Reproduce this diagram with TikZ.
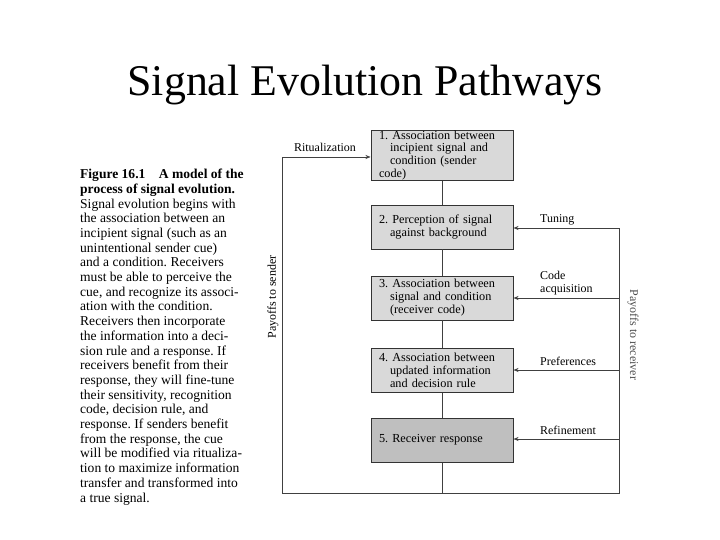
\documentclass[tikz,border=0pt]{standalone}
\usepackage{fontspec}
\setmainfont{Liberation Serif}
\usetikzlibrary{arrows.meta}
\frenchspacing
\begin{document}
\begin{tikzpicture}[x=1bp,y=-1bp,
  stepbox/.style={draw=black!80,line width=1pt,fill=black!15,minimum width=142bp,minimum height=44bp,inner xsep=8bp,inner ysep=0pt,text width=126bp,font=\fontsize{12.3}{13}\selectfont,align=left},
  lbl/.style={font=\fontsize{12}{13}\selectfont,align=left,inner sep=0pt},
  conn/.style={draw=black!75,line width=0.6pt},
  arr/.style={conn,-{Stealth[length=5bp,width=4bp]}}]
\useasboundingbox (0,0) rectangle (720,540);
\node[font=\fontsize{44}{46}\selectfont] (title) at (365,85) {Signal Evolution Pathways};
\node[stepbox] (b1) at (442,155.5) {1. Association between\\\hspace*{0.9em}incipient signal and\\\hspace*{0.9em}condition (sender code)};
\node[stepbox] (b2) at (442,227) {2. Perception of signal\\\hspace*{0.9em}against background};
\node[stepbox] (b3) at (442,298) {3. Association between\\\hspace*{0.9em}signal and condition\\\hspace*{0.9em}(receiver code)};
\node[stepbox] (b4) at (442,370) {4. Association between\\\hspace*{0.9em}updated information\\\hspace*{0.9em}and decision rule};
\node[stepbox,fill=black!25] (b5) at (442,440) {5. Receiver response};
\coordinate (bm) at (442,493);
\coordinate (bl) at (282,493);
\coordinate (tl) at (282,157);
\coordinate (br) at (619,493);
\coordinate (r2) at (619,228);
\coordinate (r3) at (619,298);
\coordinate (r4) at (619,370);
\coordinate (r5) at (619,439);
\draw[conn] (b1) -- (b2); \draw[conn] (b2) -- (b3); \draw[conn] (b3) -- (b4); \draw[conn] (b4) -- (b5);
\draw[conn] (b5) -- (bm);
\draw[arr] (bm) -- (bl) -- (tl) -- (b1.west |- tl);
\draw[conn] (bm) -- (br) -- (r2);
\draw[arr] (r2) -- (b2.east |- r2);
\draw[arr] (r3) -- (b3.east |- r3);
\draw[arr] (r4) -- (b4.east |- r4);
\draw[arr] (r5) -- (b5.east |- r5);
\node[lbl] (lr) at (325,147) {Ritualization};
\node[lbl,anchor=west] (lt) at (540,220) {Tuning};
\node[lbl,anchor=west] (lc) at (540,283) {Code\\acquisition};
\node[lbl,anchor=west] (lp) at (540,361) {Preferences};
\node[lbl,anchor=west] (lf) at (540,430) {Refinement};
\node[lbl,rotate=90] (ps) at (273,297) {Payoffs to sender};
\node[lbl,rotate=-90,text=black!70] (pr) at (633,335) {Payoffs to receiver};
\node[anchor=north west,align=left,inner sep=0pt,font=\fontsize{13.6}{14.75}\selectfont] (cap) at (80,169) {%
\textbf{Figure 16.1\quad A model of the}\\
\textbf{process of signal evolution.}\\
Signal evolution begins with\\
the association between an\\
incipient signal (such as an\\
unintentional sender cue)\\
and a condition. Receivers\\
must be able to perceive the\\
cue, and recognize its associ-\\
ation with the condition.\\
Receivers then incorporate\\
the information into a deci-\\
sion rule and a response. If\\
receivers benefit from their\\
response, they will fine-tune\\
their sensitivity, recognition\\
code, decision rule, and\\
response. If senders benefit\\
from the response, the cue\\
will be modified via ritualiza-\\
tion to maximize information\\
transfer and transformed into\\
a true signal.};
\end{tikzpicture}
\end{document}
